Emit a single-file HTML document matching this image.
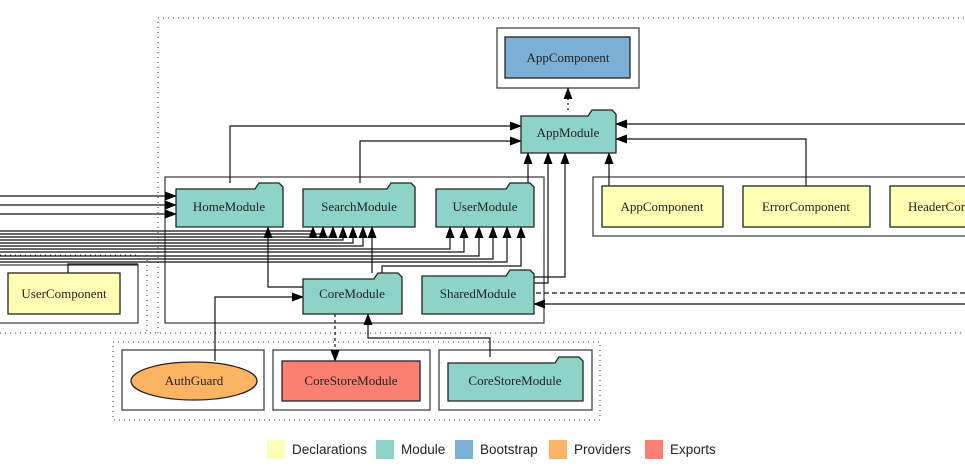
<!DOCTYPE html>
<html><head><meta charset="utf-8"><style>
html,body{margin:0;padding:0;background:#fff;width:965px;height:471px;overflow:hidden}
svg{display:block}
text{font-family:"Liberation Serif",serif;font-size:13px;fill:#222}
.lg{font-family:"Liberation Sans",sans-serif;font-size:13.5px}
</style></head><body>
<svg width="965" height="471" viewBox="0 0 965 471" xmlns="http://www.w3.org/2000/svg">
<defs>
<marker id="a" markerWidth="12" markerHeight="9" refX="11" refY="4.5" orient="auto" markerUnits="userSpaceOnUse"><path d="M0,0 L12,4.5 L0,9 z" fill="#000"/></marker>
</defs>
<g fill="none" stroke="#333" stroke-width="1" stroke-dasharray="1,4">
<path d="M158,333 V18 H965"/>
<path d="M0,333 H965"/>
<path d="M147,255 V333"/>
<path d="M0,255 H140"/>
<rect x="113" y="342" width="487" height="78"/>
</g>
<g fill="none" stroke="#444" stroke-width="1.3">
<rect x="497" y="28" width="142" height="60"/>
<rect x="165" y="177" width="379" height="146"/>
<rect x="593" y="177" width="380" height="59"/>
<rect x="-5" y="265" width="143" height="58"/>
<rect x="122" y="350" width="142" height="60"/>
<rect x="273" y="350" width="157" height="60"/>
<rect x="439" y="350" width="153" height="60"/>
</g>
<g fill="none" stroke="#111" stroke-width="1.2">
<path d="M568,110 V88" stroke-dasharray="2,3" marker-end="url(#a)"/>
<path d="M230,183 V126 H521" marker-end="url(#a)"/>
<path d="M360,183 V141 H521" marker-end="url(#a)"/>
<path d="M528,183 V153" marker-end="url(#a)"/>
<path d="M534,283 H548 V153" marker-end="url(#a)"/>
<path d="M534,277 H565 V153" marker-end="url(#a)"/>
<path d="M609,186 V153" marker-end="url(#a)"/>
<path d="M806,186 V139 H616" marker-end="url(#a)"/>
<path d="M965,124 H616" marker-end="url(#a)"/>
<path d="M0,196 H176" marker-end="url(#a)"/>
<path d="M0,205 H176" marker-end="url(#a)"/>
<path d="M0,214 H176" marker-end="url(#a)"/>
<path d="M0,231 H313 V227" marker-end="url(#a)"/>
<path d="M0,234 H323 V227" marker-end="url(#a)"/>
<path d="M0,237 H333 V227" marker-end="url(#a)"/>
<path d="M0,240 H343 V227" marker-end="url(#a)"/>
<path d="M0,243 H353 V227" marker-end="url(#a)"/>
<path d="M0,246 H363 V227" marker-end="url(#a)"/>
<path d="M0,249 H450 V227" marker-end="url(#a)"/>
<path d="M0,252 H464 V227" marker-end="url(#a)"/>
<path d="M0,256 H479 V227" marker-end="url(#a)"/>
<path d="M0,259 H493 V227" marker-end="url(#a)"/>
<path d="M0,262 H507 V227" marker-end="url(#a)"/>
<path d="M382,273 V266 H521 V227" marker-end="url(#a)"/>
<path d="M372,273 V227" marker-end="url(#a)"/>
<path d="M303,287 H268 V227" marker-end="url(#a)"/>
<path d="M215,361 V297 H303" marker-end="url(#a)"/>
<path d="M335,314 V361" stroke-dasharray="3,3" marker-end="url(#a)"/>
<path d="M490,357 V338 H368 V314" marker-end="url(#a)"/>
<path d="M965,293 H534" stroke-dasharray="5,3"/>
<path d="M965,304 H534" marker-end="url(#a)"/>
<path d="M68,273 V264 H138"/>
</g>
<g stroke="#222" stroke-width="1.3">
<rect x="505" y="37" width="125" height="41" fill="#7bafd4"/>
<path d="M521,153 V116 H588 L592,110 H612 L616,114 V153 Z" fill="#8dd3c7"/>
<path d="M176,227 V189 H255 L259,183 H279 L283,187 V227 Z" fill="#8dd3c7"/>
<path d="M303,227 V189 H387 L391,183 H411 L415,187 V227 Z" fill="#8dd3c7"/>
<path d="M436,227 V189 H506 L510,183 H530 L534,187 V227 Z" fill="#8dd3c7"/>
<path d="M303,314 V279 H374 L378,273 H398 L402,277 V314 Z" fill="#8dd3c7"/>
<path d="M422,314 V276 H506 L510,270 H530 L534,274 V314 Z" fill="#8dd3c7"/>
<path d="M448,401 V363 H555 L559,357 H579 L583,361 V401 Z" fill="#8dd3c7"/>
<rect x="602" y="186" width="121" height="41" fill="#ffffb3"/>
<rect x="743" y="186" width="127" height="41" fill="#ffffb3"/>
<rect x="890" y="186" width="90" height="41" fill="#ffffb3"/>
<rect x="8" y="273" width="112" height="41" fill="#ffffb3"/>
<ellipse cx="194" cy="381" rx="63" ry="19" fill="#fdb462"/>
<rect x="282" y="361" width="138" height="40" fill="#fb8072"/>
</g>
<g text-anchor="middle">
<text x="568" y="62">AppComponent</text>
<text x="568" y="137">AppModule</text>
<text x="229" y="211">HomeModule</text>
<text x="359" y="211">SearchModule</text>
<text x="485" y="211">UserModule</text>
<text x="352" y="298">CoreModule</text>
<text x="478" y="298">SharedModule</text>
<text x="662" y="211">AppComponent</text>
<text x="806" y="211">ErrorComponent</text>
<text x="64" y="298">UserComponent</text>
<text x="194" y="385">AuthGuard</text>
<text x="351" y="385">CoreStoreModule</text>
<text x="515" y="385">CoreStoreModule</text>
</g>
<text x="908" y="211">HeaderComponent</text>
<g>
<rect x="267" y="440" width="18" height="19" fill="#ffffb3"/>
<rect x="376" y="440" width="18" height="19" fill="#8dd3c7"/>
<rect x="455" y="440" width="18" height="19" fill="#7bafd4"/>
<rect x="549" y="440" width="18" height="19" fill="#fdb462"/>
<rect x="645" y="440" width="18" height="19" fill="#fb8072"/>
<text class="lg" x="292" y="454">Declarations</text>
<text class="lg" x="401" y="454">Module</text>
<text class="lg" x="480" y="454">Bootstrap</text>
<text class="lg" x="574" y="454">Providers</text>
<text class="lg" x="670" y="454">Exports</text>
</g>
</svg>
</body></html>
